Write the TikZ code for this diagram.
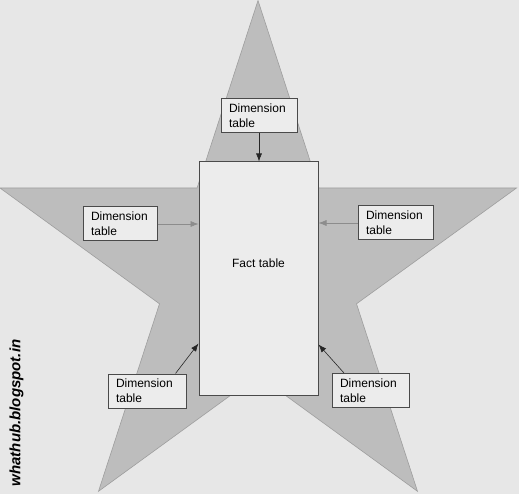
\documentclass[tikz,border=0pt]{standalone}
\usepackage{fontspec}
\setmainfont{Liberation Sans}
\usetikzlibrary{arrows.meta}
\definecolor{bgc}{HTML}{E7E7E7}
\definecolor{starc}{HTML}{BDBDBD}
\definecolor{stare}{HTML}{9E9E9E}
\definecolor{boxc}{HTML}{ECECEC}
\definecolor{boxe}{HTML}{4A4A4A}
\begin{document}
\begin{tikzpicture}[x=1pt,y=-1pt,
  dimbox/.style={draw=boxe, line width=1pt, fill=boxc, minimum height=34pt,
    text width=60pt, inner xsep=8pt, inner ysep=0pt, align=left,
    font=\fontsize{12}{15}\selectfont},
  factbox/.style={draw=boxe, line width=1pt, fill=boxc, minimum width=119pt,
    minimum height=233pt, inner sep=0pt},
  conn/.style={line width=0.6pt, draw=black!85, -{Latex[length=8pt,width=6pt]}},
  connlight/.style={line width=0.6pt, draw=black!45, -{Latex[length=8pt,width=6pt]}}]
\useasboundingbox (0,0) rectangle (519,494);
\fill[bgc] (0,0) rectangle (519,494);
% star
\filldraw[fill=starc, draw=stare, line width=0.6pt]
  (258,0.5) -- (318.9,188) -- (516.5,188) -- (356.5,303.8) -- (417.5,491.3)
  -- (258,375.4) -- (98.5,491.3) -- (159.5,303.8) -- (0,188) -- (197.1,188) -- cycle;
% fact table
\node[factbox] (fact) at (258.5,278.5) {};
\node[font=\fontsize{12}{14}\selectfont] (factlbl) at ([yshift=15.5pt]fact.center) {Fact table};
% dimension tables
\node[dimbox, minimum width=76pt] (dtop) at (259,116) {Dimension\\table};
\node[dimbox, minimum width=74pt, text width=58pt] (dleft) at (120,224) {Dimension\\table};
\node[dimbox, minimum width=75pt, text width=59pt] (dright) at (395.5,223) {Dimension\\table};
\node[dimbox, minimum width=78pt, text width=62pt] (dbl) at (147,391) {Dimension\\table};
\node[dimbox, minimum width=77pt, text width=61pt] (dbr) at (370.5,390.5) {Dimension\\table};
% connectors
\draw[conn] (dtop.south) -- (dtop.south |- fact.north);
\draw[connlight] (dleft.east) -- (dleft.east -| fact.west);
\draw[connlight] (dright.west) -- (dright.west -| fact.east);
\draw[conn] ([xshift=-11pt]dbl.north east) -- ([yshift=52pt]fact.south west);
\draw[conn] ([xshift=12.5pt]dbr.north west) -- ([yshift=51pt]fact.south east);
% watermark
\node[rotate=90, font=\fontsize{15}{15}\selectfont\bfseries\itshape, inner sep=0pt] (wm) at (16.5,413) {whathub.blogspot.in};
\end{tikzpicture}
\end{document}
